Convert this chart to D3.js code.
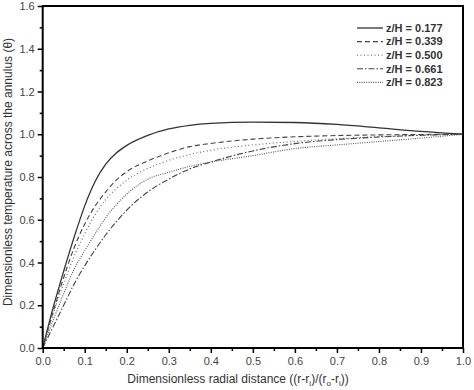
<!DOCTYPE html>
<html><head><meta charset="utf-8">
<script src="https://cdn.jsdelivr.net/npm/d3@7"></script>
<style>body{margin:0;background:#fff;} svg{display:block;} text{font-family:"Liberation Sans",Arial,sans-serif;}</style>
</head><body>
<svg id="c" width="474" height="390"></svg>
<script>
const xValues = [0, 0.025, 0.05, 0.075, 0.1, 0.125, 0.15, 0.175, 0.2, 0.25, 0.3, 0.35, 0.4, 0.5, 0.6, 0.7, 0.8, 0.9, 1.0];
const seriesNames = ["z/H = 0.177", "z/H = 0.339", "z/H = 0.500", "z/H = 0.661", "z/H = 0.823"];
const s177 = [0, 0.19, 0.36, 0.52, 0.665, 0.78, 0.86, 0.912, 0.948, 0.995, 1.025, 1.042, 1.051, 1.057, 1.055, 1.046, 1.03, 1.013, 1.0];
const s339 = [0, 0.17, 0.33, 0.47, 0.58, 0.665, 0.73, 0.785, 0.825, 0.875, 0.913, 0.942, 0.957, 0.977, 0.988, 0.994, 0.997, 0.999, 1.0];
const s500 = [0, 0.16, 0.30, 0.43, 0.535, 0.625, 0.695, 0.745, 0.785, 0.84, 0.878, 0.905, 0.925, 0.95, 0.966, 0.979, 0.989, 0.996, 1.0];
const s661 = [0, 0.10, 0.20, 0.30, 0.385, 0.46, 0.53, 0.59, 0.645, 0.73, 0.79, 0.838, 0.87, 0.922, 0.956, 0.975, 0.987, 0.995, 1.0];
const s823 = [0, 0.13, 0.255, 0.37, 0.455, 0.535, 0.61, 0.67, 0.72, 0.79, 0.822, 0.85, 0.87, 0.9, 0.933, 0.95, 0.966, 0.982, 1.0];
const seriesValues = [s177, s339, s500, s661, s823];
const xTicks = [0, 0.1, 0.2, 0.3, 0.4, 0.5, 0.6, 0.7, 0.8, 0.9, 1.0];
const yTicks = [0, 0.2, 0.4, 0.6, 0.8, 1.0, 1.2, 1.4, 1.6];

const styles = [
  {dash: null, w: 1.3, c: "#333"},
  {dash: "5,3", w: 1.1, c: "#444"},
  {dash: "1,2.5", w: 1.1, c: "#666"},
  {dash: "6,2,1.5,2", w: 1.1, c: "#444"},
  {dash: "1,1.3", w: 1.1, c: "#555"}
];

const svg = d3.select("#c");
const L = 42.7, R = 463, T = 6, B = 348;
const x = d3.scaleLinear().domain([0, 1]).range([L, R]);
const y = d3.scaleLinear().domain([0, 1.6]).range([B, T]);

// minor ticks
const xMinor = d3.range(0.05, 1, 0.1);
const yMinor = d3.range(0.1, 1.6, 0.2);
svg.append("g").attr("transform", `translate(0,${B})`)
  .call(d3.axisBottom(x).tickValues(xMinor).tickSize(3).tickFormat(""))
  .call(g => g.select(".domain").remove())
  .call(g => g.selectAll("line").attr("stroke", "#000").attr("stroke-width", 1.5));
svg.append("g").attr("transform", `translate(${L},0)`)
  .call(d3.axisLeft(y).tickValues(yMinor).tickSize(3).tickFormat(""))
  .call(g => g.select(".domain").remove())
  .call(g => g.selectAll("line").attr("stroke", "#000").attr("stroke-width", 1.5));

const xa = svg.append("g").attr("transform", `translate(0,${B})`)
  .call(d3.axisBottom(x).tickValues(xTicks).tickSize(5).tickPadding(4).tickFormat(d3.format(".1f")));
xa.select(".domain").remove();
xa.selectAll("line").attr("stroke", "#000").attr("stroke-width", 1.5);
xa.selectAll("text").attr("font-size", 11).attr("fill", "#444").style("font-family", "'Liberation Sans',Arial,sans-serif");

const ya = svg.append("g").attr("transform", `translate(${L},0)`)
  .call(d3.axisLeft(y).tickValues(yTicks).tickSize(5).tickPadding(3).tickFormat(d3.format(".1f")));
ya.select(".domain").remove();
ya.selectAll("line").attr("stroke", "#000").attr("stroke-width", 1.5);
ya.selectAll("text").attr("font-size", 11).attr("fill", "#444").style("font-family", "'Liberation Sans',Arial,sans-serif");

// lines
const line = d3.line().x(d => x(d[0])).y(d => y(d[1])).curve(d3.curveMonotoneX);
seriesValues.forEach((vals, i) => {
  const pts = xValues.map((xv, j) => [xv, vals[j]]);
  svg.append("path").datum(pts).attr("d", line)
    .attr("fill", "none").attr("stroke", styles[i].c)
    .attr("stroke-width", styles[i].w)
    .attr("stroke-dasharray", styles[i].dash);
});

// frame
svg.append("rect").attr("x", L).attr("y", T).attr("width", R - L).attr("height", B - T)
  .attr("fill", "none").attr("stroke", "#000").attr("stroke-width", 2);

// legend
const lg = svg.append("g");
seriesNames.forEach((n, i) => {
  const yy = 28 + i * 13.6;
  lg.append("line").attr("x1", 357).attr("x2", 383).attr("y1", yy).attr("y2", yy)
    .attr("stroke", styles[i].c).attr("stroke-width", styles[i].w)
    .attr("stroke-dasharray", styles[i].dash);
  lg.append("text").attr("x", 386).attr("y", yy).attr("dy", "0.35em")
    .attr("font-size", 11).attr("font-weight", "bold").attr("fill", "#333").text(n);
});

// axis titles
const xt = svg.append("text").attr("x", 238).attr("y", 383).attr("text-anchor", "middle")
  .attr("font-size", 12).attr("fill", "#333");
xt.append("tspan").text("Dimensionless radial distance ((r-r");
xt.append("tspan").attr("font-size", 8).attr("dy", 3).text("i");
xt.append("tspan").attr("dy", -3).text(")/(r");
xt.append("tspan").attr("font-size", 8).attr("dy", 3).text("o");
xt.append("tspan").attr("dy", -3).text("-r");
xt.append("tspan").attr("font-size", 8).attr("dy", 3).text("i");
xt.append("tspan").attr("dy", -3).text("))");

svg.append("text").attr("transform", "translate(12,172) rotate(-90)")
  .attr("text-anchor", "middle").attr("font-size", 12).attr("fill", "#333")
  .text("Dimensionless temperature across the annulus (θ)");
</script>
</body></html>
